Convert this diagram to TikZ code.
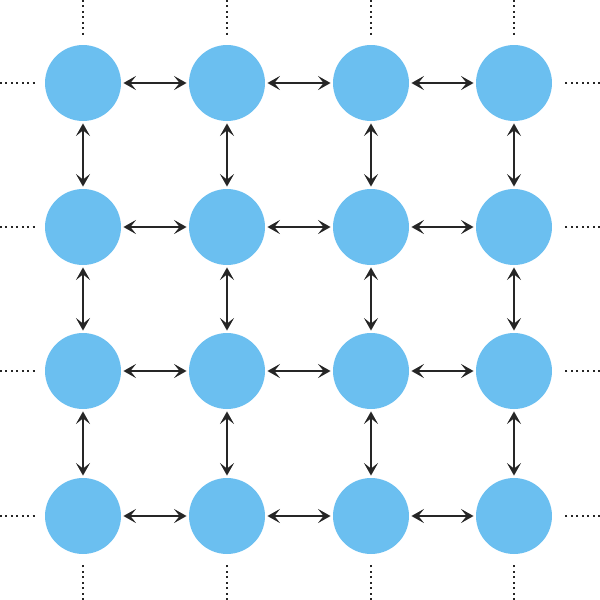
\documentclass[tikz,border=0pt]{standalone}
\usetikzlibrary{arrows.meta}
\definecolor{cellblue}{HTML}{6BBFF0}
\definecolor{linkgray}{HTML}{262626}

\begin{document}
\begin{tikzpicture}[x=0.02cm, y=-0.02cm,
	every node/.style={circle,fill=cellblue,minimum size=1.52cm,inner sep=0pt},
	link/.style={{Stealth[length=2.5mm,width=2.8mm,inset=1.1mm]}-{Stealth[length=2.5mm,width=2.8mm,inset=1.1mm]}, line width=1.2pt, draw=linkgray, shorten <=1.2pt, shorten >=1.2pt},
	edge/.style={dotted, line width=1.1pt, draw=linkgray}]
	\useasboundingbox (0,0) rectangle (600,600);
	\foreach \i/\y in {1/83, 2/227, 3/371, 4/516}
		\foreach \j/\x in {1/83, 2/227, 3/371, 4/514}
			\node (n\i\j) at (\x,\y) {};
	% outer dotted stubs
	\foreach \j/\x in {1/83, 2/227, 3/371, 4/514} {
		\coordinate (t\j) at (\x,0);
		\coordinate (b\j) at (\x,600);
		\draw[edge] (t\j) -- ([yshift=5.5pt]n1\j.north);
		\draw[edge] (b\j) -- ([yshift=-5.5pt]n4\j.south);
	}
	\foreach \i/\y in {1/83, 2/227, 3/371, 4/516} {
		\coordinate (l\i) at (0,\y);
		\coordinate (r\i) at (600,\y);
		\draw[edge] (l\i) -- ([xshift=-5.5pt]n\i1.west);
		\draw[edge] (r\i) -- ([xshift=5.5pt]n\i4.east);
	}
	\foreach \from/\to in {
		n11/n12, n12/n13, n13/n14,
		n21/n22, n22/n23, n23/n24,
		n31/n32, n32/n33, n33/n34,
		n41/n42, n42/n43, n43/n44,
		n11/n21, n21/n31, n31/n41,
		n12/n22, n22/n32, n32/n42,
		n13/n23, n23/n33, n33/n43,
		n14/n24, n24/n34, n34/n44}
	\draw[link] (\from) -- (\to);
\end{tikzpicture}
\end{document}
